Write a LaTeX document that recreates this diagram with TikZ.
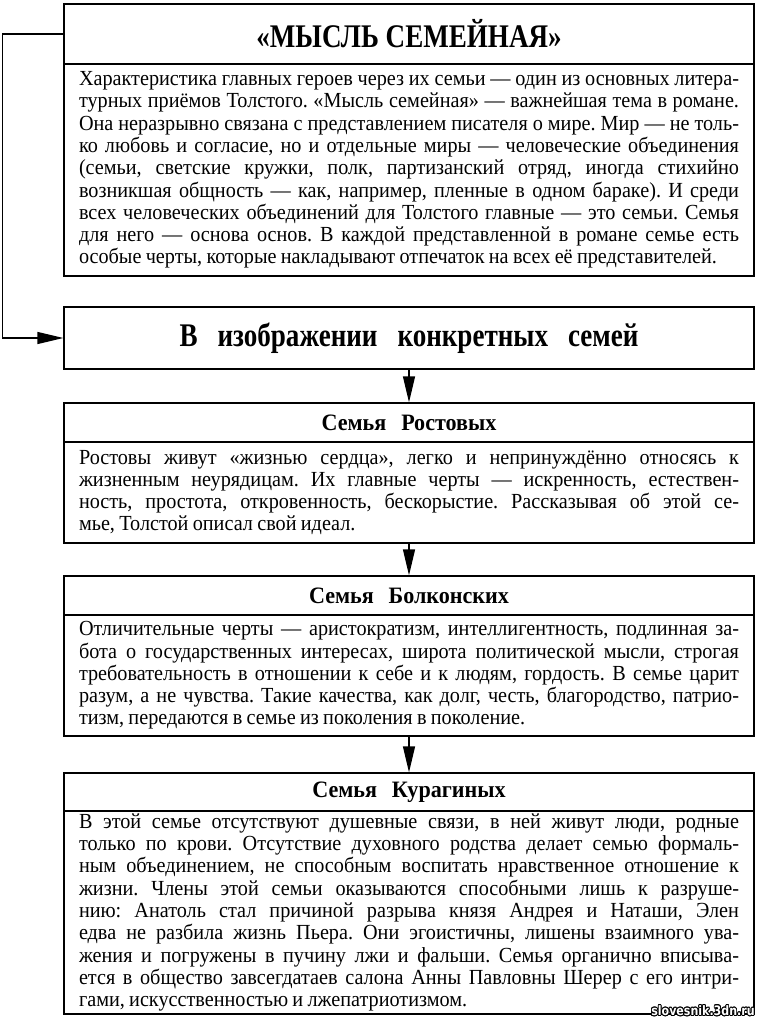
\documentclass[tikz,border=0pt]{standalone}
\usepackage{fontspec}
\setmainfont{Liberation Serif}[FakeStretch=0.94]
\newfontfamily\headfont{Liberation Serif}[FakeStretch=0.82]
\newfontfamily\markfont{DejaVu Sans}[FakeStretch=0.85]
\usepackage{contour}
\usetikzlibrary{arrows.meta}

\contourlength{0.8pt}
\newcommand\bodytext{\fontsize{21.5}{22.3}\selectfont\frenchspacing
  \spaceskip=0.2em plus 0.4em minus 0.1em\tolerance=10000\hyphenpenalty=10000}
\newcommand\bigtitle{\headfont\fontsize{33}{35}\selectfont\bfseries}
\newcommand\famtitle{\fontsize{23.5}{25}\selectfont\bfseries}

\begin{document}
\begin{tikzpicture}[x=1pt,y=1pt]
\useasboundingbox (0,0) rectangle (761,-1024);
\begin{scope}[every node/.style={rectangle,draw,line width=1.3pt,minimum width=690pt,inner sep=0pt}]
    \node [minimum height=60pt,font=\bigtitle] (mysl) at (409,-34) {«МЫСЛЬ СЕМЕЙНАЯ»};
    \node [minimum height=212pt,text width=660pt,align=justify,font=\bodytext] (myslText) at (409,-170) {%
      Характеристика главных героев через их семьи — один из основных литера-\linebreak
      турных приёмов Толстого. «Мысль семейная» — важнейшая тема в романе.\linebreak
      Она неразрывно связана с представлением писателя о мире. Мир — не толь-\linebreak
      ко любовь и согласие, но и отдельные миры — человеческие объединения\linebreak
      (семьи, светские кружки, полк, партизанский отряд, иногда стихийно\linebreak
      возникшая общность — как, например, пленные в одном бараке). И среди\linebreak
      всех человеческих объединений для Толстого главные — это семьи. Семья\linebreak
      для него — основа основ. В каждой представленной в романе семье есть\linebreak
      особые черты, которые накладывают отпечаток на всех её представителей.};
    \node [minimum height=62pt,font=\bigtitle] (konkr) at (409,-338) {В\hspace{.4em} изображении\hspace{.4em} конкретных\hspace{.4em} семей};
    \node [minimum height=39pt,font=\famtitle] (rost) at (409,-422.5) {Семья\hspace{.4em} Ростовых};
    \node [minimum height=101pt,text width=660pt,align=justify,font=\bodytext] (rostText) at (409,-492.5) {%
      Ростовы живут «жизнью сердца», легко и непринуждённо относясь к\linebreak
      жизненным неурядицам. Их главные черты — искренность, естествен-\linebreak
      ность, простота, откровенность, бескорыстие. Рассказывая об этой се-\linebreak
      мье, Толстой описал свой идеал.};
    \node [minimum height=39pt,font=\famtitle] (bolk) at (409,-595.5) {Семья\hspace{.4em} Болконских};
    \node [minimum height=121pt,text width=660pt,align=justify,font=\bodytext] (bolkText) at (409,-675.5) {%
      Отличительные черты — аристократизм, интеллигентность, подлинная за-\linebreak
      бота о государственных интересах, широта политической мысли, строгая\linebreak
      требовательность в отношении к себе и к людям, гордость. В семье царит\linebreak
      разум, а не чувства. Такие качества, как долг, честь, благородство, патрио-\linebreak
      тизм, передаются в семье из поколения в поколение.};
    \node [minimum height=38pt,font=\famtitle] (kur) at (409,-792) {Семья\hspace{.4em} Курагиных};
    \node [minimum height=203pt,text width=660pt,align=justify,font=\bodytext] (kurText) at (409,-912.5) {%
      В этой семье отсутствуют душевные связи, в ней живут люди, родные\linebreak
      только по крови. Отсутствие духовного родства делает семью формаль-\linebreak
      ным объединением, не способным воспитать нравственное отношение к\linebreak
      жизни. Члены этой семьи оказываются способными лишь к разруше-\linebreak
      нию: Анатоль стал причиной разрыва князя Андрея и Наташи, Элен\linebreak
      едва не разбила жизнь Пьера. Они эгоистичны, лишены взаимного ува-\linebreak
      жения и погружены в пучину лжи и фальши. Семья органично вписыва-\linebreak
      ется в общество завсегдатаев салона Анны Павловны Шерер с его интри-\linebreak
      гами, искусственностью и лжепатриотизмом.};
\end{scope}

\begin{scope}[>={Triangle[length=26pt,width=12pt]},
              every edge/.style={draw=black,line width=1.3pt}]
    \path [->] (konkr) edge (rost);
    \path [->] (rostText) edge (bolk);
    \path [->] (bolkText) edge (kur);
    \draw [->,line width=1.3pt] (mysl.west) -- ++(-61,0) |- (konkr.west);
\end{scope}

\node [inner sep=0pt] (mark) at (703,-1011) {\markfont\bfseries\fontsize{13}{13}\selectfont\contour{black}{\textcolor{white}{slovesnik.3dn.ru}}};
\end{tikzpicture}
\end{document}
